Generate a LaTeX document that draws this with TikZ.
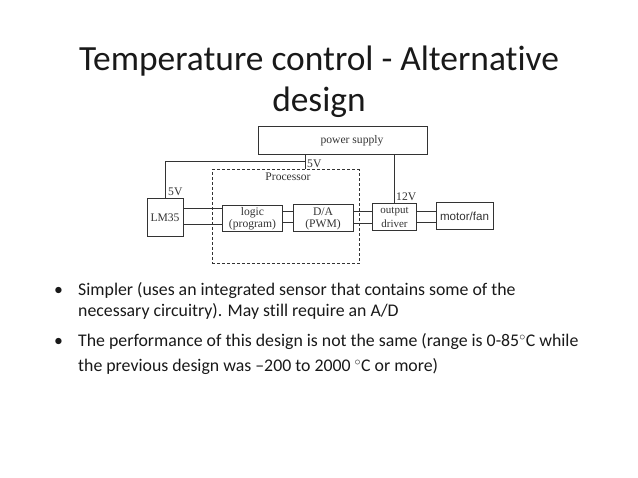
\documentclass[tikz,border=0pt]{standalone}
\usepackage{fontspec}
\setmainfont[Ligatures=NoCommon]{Carlito}
\newfontfamily\serifdiag{Liberation Serif}
\newfontfamily\sansdiag{Liberation Sans}
\usetikzlibrary{positioning}

\begin{document}
\begin{tikzpicture}[
  x=1pt, y=-1pt,
  node distance=10pt and 10pt,
  box/.style={draw=black!80, line width=1pt, inner sep=0pt, align=center, font=\serifdiag\fontsize{11.6}{12}\selectfont, text=black!80},
  wire/.style={draw=black!80, line width=1pt},
  tag/.style={inner sep=0pt, font=\serifdiag\fontsize{11.6}{12}\selectfont, text=black!80},
  titletext/.style={inner sep=0pt, align=center, text=black!90, font=\fontsize{35.4}{41}\selectfont},
  bullet/.style={inner sep=0pt, anchor=base west, align=left, text=black!90, font=\fontsize{17.8}{21}\selectfont}
]
  \useasboundingbox (0,0) rectangle (638,478);

  \node[titletext] (title) at (319,82) {Temperature control - Alternative\\design};

  % diagram
  \node[box, minimum width=169pt, minimum height=28pt] (power) at (342.5,141) {\hspace*{19pt}\raisebox{-1.5pt}{power supply}};
  \node[box, minimum width=36pt, minimum height=38pt] (lm35) at (165,218) {LM35};
  \node[box, minimum width=60pt, minimum height=26pt, right=38.5pt of lm35, yshift=-1pt] (logic) {logic\\(program)};
  \node[box, minimum width=60pt, minimum height=27pt, right=9.5pt of logic, yshift=0.5pt] (da) {D/A\\(PWM)};
  \node[box, minimum width=44pt, minimum height=27pt, right=18.5pt of da, yshift=1pt, font=\serifdiag\fontsize{11}{14}\selectfont] (driver) {output\\driver};
  \node[box, minimum width=57pt, minimum height=27pt, right=18.5pt of driver, yshift=1pt, font=\sansdiag\fontsize{11.6}{12}\selectfont] (motor) {motor/fan};
  \node[draw=black!80, densely dashed, line width=1pt, minimum width=147pt, minimum height=94pt, inner sep=0pt] (proc) at (285.5,217) {};
  \node[tag, below=3pt of proc.north, xshift=2.5pt] (proclabel) {Processor};

  \coordinate (tap) at (305,162);
  \draw[wire] (lm35.north) |- (tap);
  \draw[wire] (tap |- power.south) -- (tap |- proc.north);
  \draw[wire] (power.south -| driver.north) -- (driver.north);

  \node[tag, anchor=west] (lmv) at (168,192) {5V};
  \node[tag, anchor=west] (tapv) at (307,164) {5V};
  \node[tag, anchor=west] (drvv) at (396,197) {12V};

  % signal lines
  \draw[wire] ([yshift=9pt]lm35.east) -- ([yshift=9pt]lm35.east -| logic.west);
  \draw[wire] ([yshift=-7pt]lm35.east) -- ([yshift=-7pt]lm35.east -| logic.west);
  \draw[wire] ([yshift=7pt]logic.east) -- ([yshift=7pt]logic.east -| da.west);
  \draw[wire] ([yshift=-4pt]logic.east) -- ([yshift=-4pt]logic.east -| da.west);
  \draw[wire] ([yshift=6.5pt]da.east) -- ([yshift=6.5pt]da.east -| driver.west);
  \draw[wire] ([yshift=-5.5pt]da.east) -- ([yshift=-5.5pt]da.east -| driver.west);
  \draw[wire] ([yshift=5.5pt]driver.east) -- ([yshift=5.5pt]driver.east -| motor.west);
  \draw[wire] ([yshift=-5.5pt]driver.east) -- ([yshift=-5.5pt]driver.east -| motor.west);

  % bullets
  \node[bullet] (dotone) at (54,296) {•};
  \node[bullet] (textone) at (78,317) {Simpler (uses an integrated sensor that contains some of the\\necessary circuitry). May still require an A/D};
  \node[bullet] (dottwo) at (54,347) {•};
  \node[bullet, font=\fontsize{17.8}{25}\selectfont] (texttwo) at (78,372) {The performance of this design is not the same (range is 0-85$^\circ$C while\\the previous design was –200 to 2000 $^\circ$C or more)};
\end{tikzpicture}
\end{document}
